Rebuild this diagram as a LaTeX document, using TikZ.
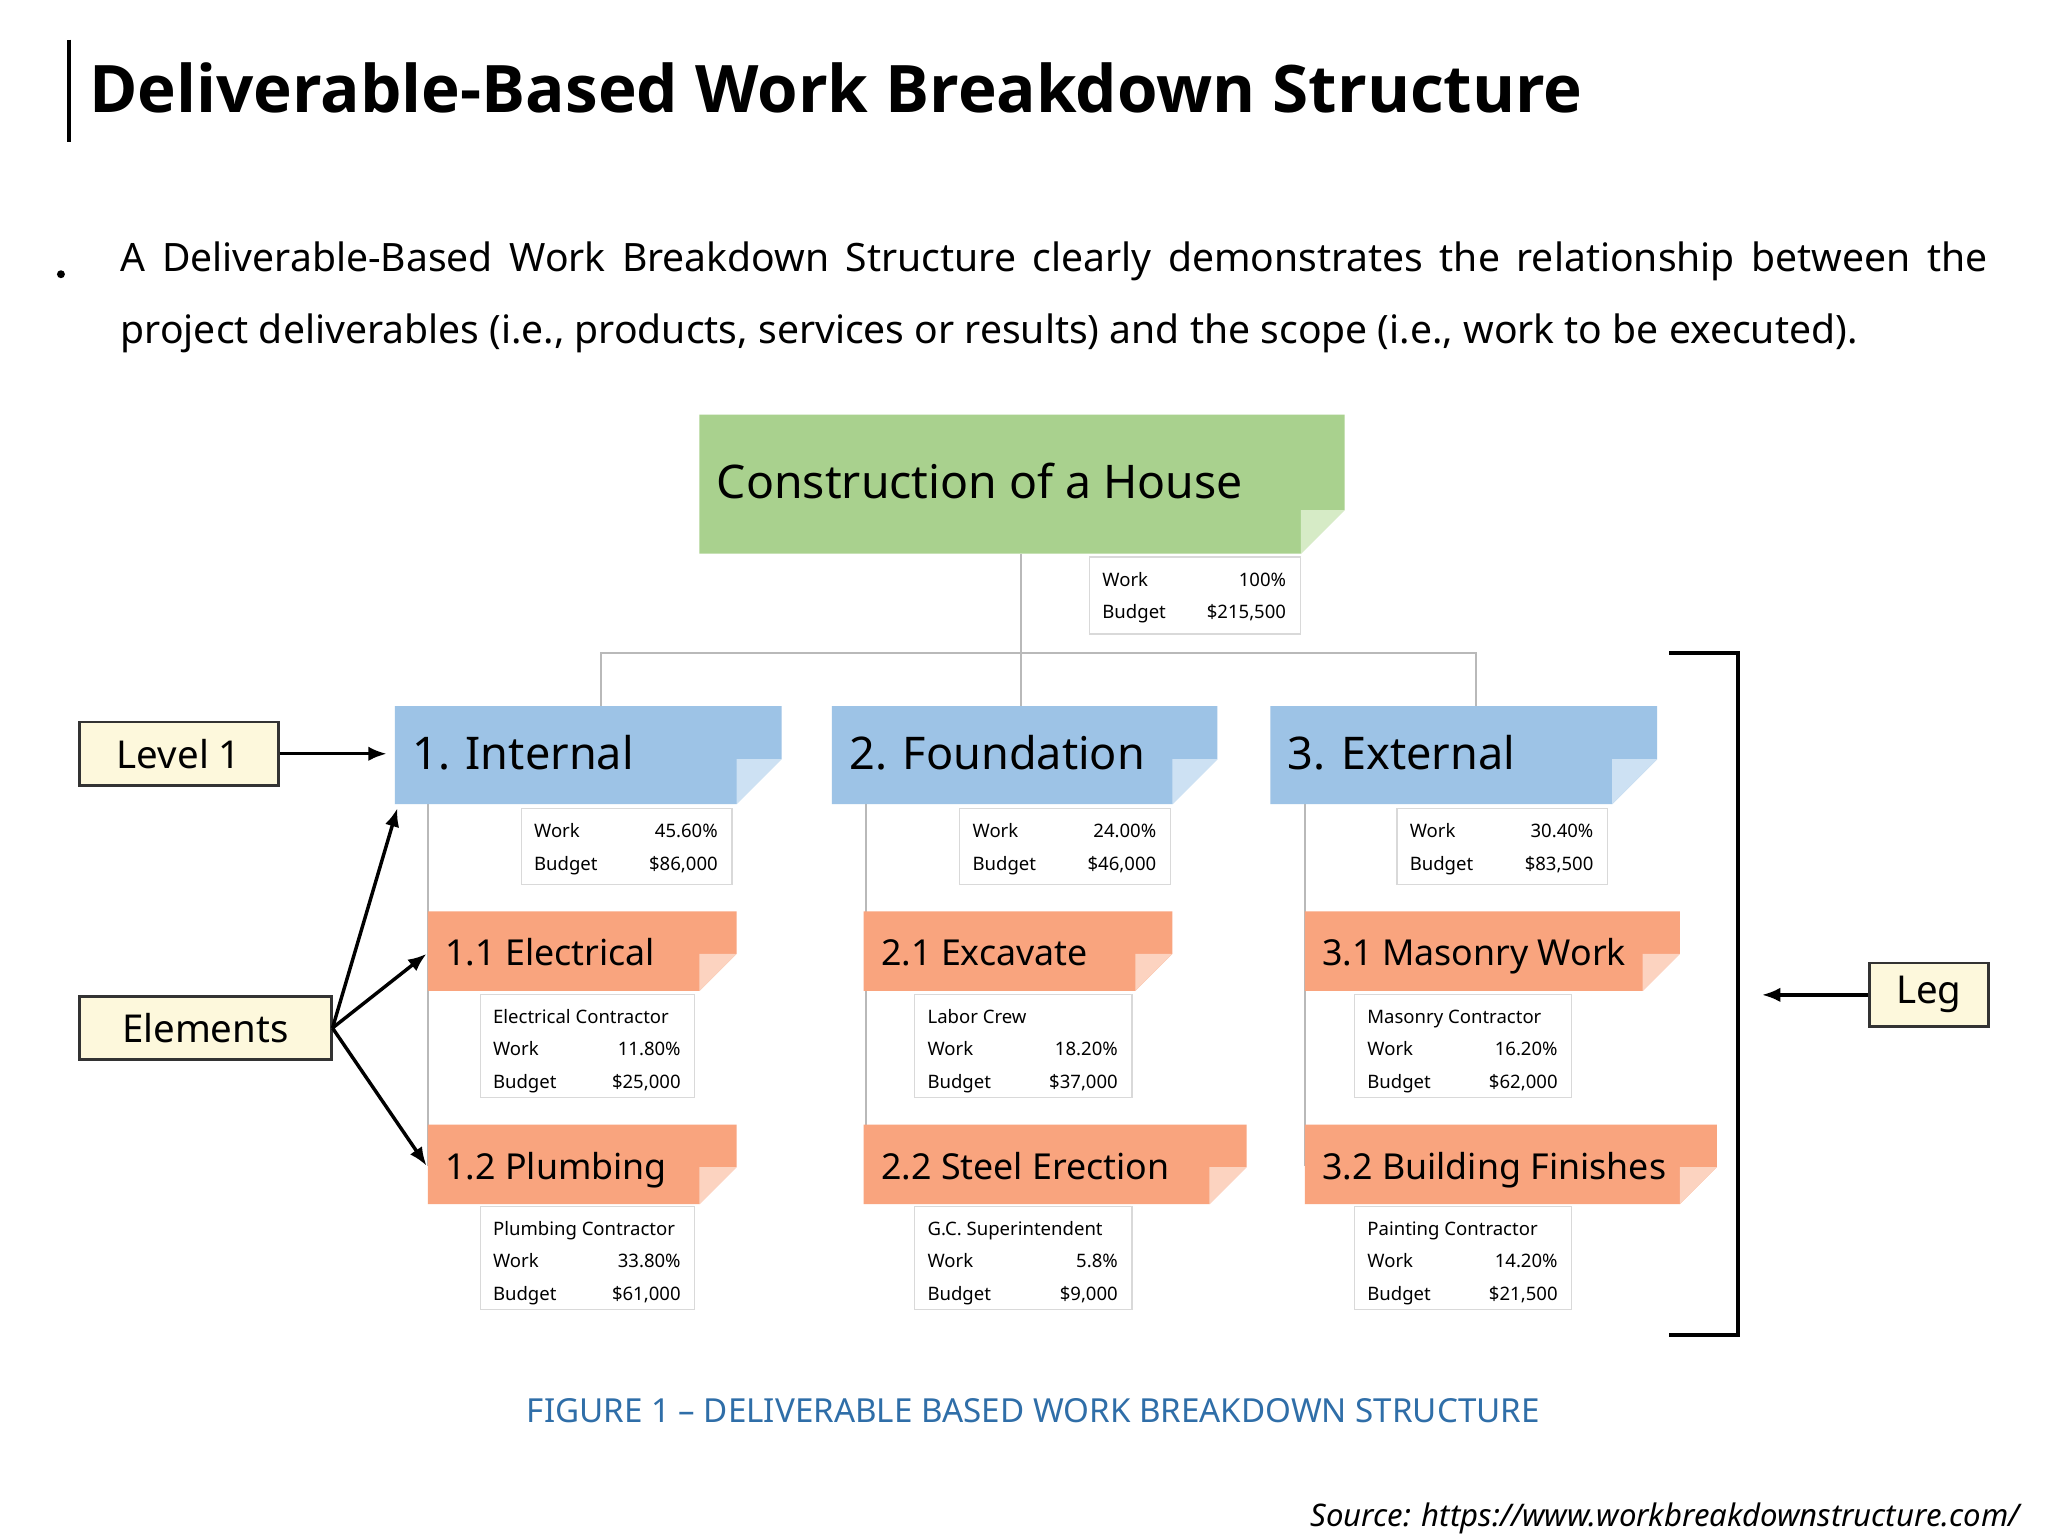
\documentclass[tikz,border=0pt]{standalone}
\usepackage{fontspec}
\setmainfont{Noto Sans}
\newfontfamily\titlefont{Open Sans}[FontFace={b}{n}{Open Sans Bold}]
\usetikzlibrary{arrows.meta}
\definecolor{gr}{HTML}{A9D18E}\definecolor{grl}{HTML}{D6EBC6}
\definecolor{bl}{HTML}{9DC3E6}\definecolor{bll}{HTML}{CDE1F3}
\definecolor{og}{HTML}{F9A47E}\definecolor{ogl}{HTML}{FCD3C0}
\definecolor{cream}{HTML}{FDF8DC}\definecolor{cap}{HTML}{2F6EA8}
\tikzset{conn/.style={draw=gray!55,line width=1.6pt},
 info/.style={draw=gray!30,line width=1pt,fill=white},
 tag/.style={draw=black!80,line width=2pt,fill=cream},
 arr/.style={line width=2.6pt,-{Latex[length=14pt,width=11pt]}}}
% #1 name #2 x1 #3 y1 #4 x2 #5 y2 #6 fill #7 light #8 fold #9 text
\newcommand{\foldbox}[9]{%
 \fill[#6] (#2,#3) -- (#4,#3) -- (#4,#5-#8) -- (#4-#8,#5) -- (#2,#5) -- cycle;
 \fill[#7] (#4,#5-#8) -- (#4-#8,#5-#8) -- (#4-#8,#5) -- cycle;
 \node[anchor=base west,inner sep=0pt] (#1) at (#2+13,#3*0.5+#5*0.5+11) {#9};}
\newcommand{\ibox}[7]{% name x1 y1 x2 y2 lines
 \node[info,minimum width=#4pt-#2pt,minimum height=#5pt-#3pt,anchor=north west,inner sep=0pt] (#1) at (#2,#3) {};
 \node[anchor=north west,inner sep=0pt,align=left,font=\fontsize{14}{24.5}\selectfont] at (#2+10,#3+5) {\strut#6};
 \node[anchor=north east,inner sep=0pt,align=right,font=\fontsize{14}{24.5}\selectfont] at (#4-10,#3+5) {\strut#7};}
\begin{document}
\begin{tikzpicture}[x=1pt,y=-1pt]
\useasboundingbox (0,0) rectangle (1546,1160);
\fill[white] (0,0) rectangle (1546,1160);
% title
\draw[line width=2.5pt] (52,30) -- (52,107);
\node[anchor=west,inner sep=0pt,font=\fontsize{49.5}{56}\titlefont\bfseries] (title) at (67,66) {Deliverable-Based Work Breakdown Structure};
\node[circle,fill=black,inner sep=0pt,minimum size=6pt] (bul) at (46,207) {};
\node[anchor=north west,inner sep=0pt,text width=1409pt,align=justify,font=\fontsize{29.5}{55}\selectfont] (body) at (91,182) {A Deliverable-Based Work Breakdown Structure clearly demonstrates the relationship between the\linebreak project deliverables (i.e., products, services or results) and the scope (i.e., work to be executed).};
% connectors
\coordinate (j) at (771,493);
\draw[conn] (771,418) -- (j);
\draw[conn] (454,533) -- (454,493) -- (1114,493) -- (1114,533);
\draw[conn] (j) -- (771,533);
\draw[conn] (323,607) -- (323,880);
\draw[conn] (654,607) -- (654,880);
\draw[conn] (985,607) -- (985,880);
% root
\foldbox{root}{528}{313}{1015}{418}{gr}{grl}{33}{\fontsize{35}{40}\selectfont Construction of a House}
\ibox{iroot}{822}{420}{981}{478}{Work\\Budget}{100\%\\\$215,500}
% level1
\foldbox{n1}{298}{533}{590}{607}{bl}{bll}{34}{\fontsize{34}{40}\selectfont 1. Internal}
\foldbox{n2}{628}{533}{919}{607}{bl}{bll}{34}{\fontsize{34}{40}\selectfont 2. Foundation}
\foldbox{n3}{959}{533}{1251}{607}{bl}{bll}{34}{\fontsize{34}{40}\selectfont 3. External}
\ibox{i1}{393}{610}{552}{667}{Work\\Budget}{45.60\%\\\$86,000}
\ibox{i2}{724}{610}{883}{667}{Work\\Budget}{24.00\%\\\$46,000}
\ibox{i3}{1054}{610}{1213}{667}{Work\\Budget}{30.40\%\\\$83,500}
% level2
\foldbox{n11}{323}{688}{556}{748}{og}{ogl}{28}{\fontsize{27}{32}\selectfont 1.1 Electrical}
\foldbox{n12}{323}{849}{556}{909}{og}{ogl}{28}{\fontsize{27}{32}\selectfont 1.2 Plumbing}
\foldbox{n21}{652}{688}{885}{748}{og}{ogl}{28}{\fontsize{27}{32}\selectfont 2.1 Excavate}
\foldbox{n22}{652}{849}{941}{909}{og}{ogl}{28}{\fontsize{27}{32}\selectfont 2.2 Steel Erection}
\foldbox{n31}{985}{688}{1268}{748}{og}{ogl}{28}{\fontsize{27}{32}\selectfont 3.1 Masonry Work}
\foldbox{n32}{985}{849}{1296}{909}{og}{ogl}{28}{\fontsize{27}{32}\selectfont 3.2 Building Finishes}
\ibox{i11}{362}{750}{524}{828}{Electrical Contractor\\Work\\Budget}{\\11.80\%\\\$25,000}
\ibox{i12}{362}{910}{524}{988}{Plumbing Contractor\\Work\\Budget}{\\33.80\%\\\$61,000}
\ibox{i21}{690}{750}{854}{828}{Labor Crew\\Work\\Budget}{\\18.20\%\\\$37,000}
\ibox{i22}{690}{910}{854}{988}{G.C. Superintendent\\Work\\Budget}{\\5.8\%\\\$9,000}
\ibox{i31}{1022}{750}{1186}{828}{Masonry Contractor\\Work\\Budget}{\\16.20\%\\\$62,000}
\ibox{i32}{1022}{910}{1186}{988}{Painting Contractor\\Work\\Budget}{\\14.20\%\\\$21,500}
% tags
\node[tag,minimum width=150pt,minimum height=48pt,inner sep=0pt,font=\fontsize{29}{32}\selectfont] (lv) at (135,569) {Level 1};
\node[tag,minimum width=190pt,minimum height=48pt,inner sep=0pt,font=\fontsize{29}{32}\selectfont] (el) at (155,776) {Elements};
\node[tag,minimum width=90pt,minimum height=48pt,inner sep=0pt,font=\fontsize{29}{32}\selectfont] (leg) at (1456,751) {Leg};
\coordinate (n1l) at (292,569);
\draw[arr] (lv.east) -- (n1l);
\coordinate (ea) at (300,610);
\coordinate (eb) at (322,720);
\coordinate (ec) at (322,880);
\draw[arr] (el.east) -- (ea);
\draw[arr] (el.east) -- (eb);
\draw[arr] (el.east) -- (ec);
\coordinate (legt) at (1330,751);
\draw[arr] (leg.west) -- (legt);
\draw[line width=3pt] (1260,493) -- (1312,493) -- (1312,1008) -- (1260,1008);
% caption
\node[text=cap,font=\fontsize{25}{30}\selectfont] (capt) at (780,1065) {FIGURE 1 – DELIVERABLE BASED WORK BREAKDOWN STRUCTURE};
\node[anchor=east,font=\fontsize{23.5}{28}\selectfont\itshape] (src) at (1528,1146) {Source: https://www.workbreakdownstructure.com/};
\end{tikzpicture}
\end{document}
